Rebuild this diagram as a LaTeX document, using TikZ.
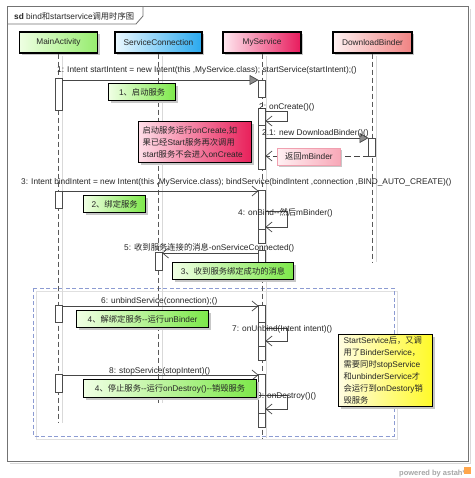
\documentclass[tikz,border=0pt]{standalone}
\usepackage{fontspec}
\setmainfont{Liberation Sans}
\newfontfamily\cjk{Noto Sans CJK SC}
\usetikzlibrary{arrows.meta,shadows}
\newcommand\zh[1]{{\cjk #1}}
\newcommand\fs{\fontsize{8.3}{10}\selectfont}
\newcommand\nfs{\fontsize{8.3}{12}\selectfont}
\definecolor{lineclr}{RGB}{70,70,70}
\definecolor{fragclr}{RGB}{140,155,210}
\tikzset{
  lifeline/.style={draw=black!65, line width=1pt, dash pattern=on 5pt off 3pt},
  lifeshadow/.style={draw=black!15, line width=0.6pt},
  actbar/.style={draw=black!70, fill=white, line width=0.6pt},
  divider/.style={draw=black!70, line width=0.6pt},
  msg/.style={draw=lineclr, line width=0.7pt, -{Straight Barb[length=6pt,width=10pt,line width=0.7pt]}},
  syncmsg/.style={draw=lineclr, line width=0.7pt, -{Triangle[length=9pt,width=10pt,fill=black!45,line width=0.7pt]}},
  retmsg/.style={msg, dash pattern=on 6pt off 3pt},
  headbox/.style={draw=black, line width=1.3pt, minimum height=21pt, inner sep=0, font=\fs, text=black!85,
    drop shadow={shadow xshift=2pt, shadow yshift=-2pt, fill=black!22, opacity=1}},
  notebox/.style={draw=black, line width=1.2pt, inner sep=0, font=\fs, text=black!85, anchor=north west,
    drop shadow={shadow xshift=2pt, shadow yshift=-2pt, fill=black!22, opacity=1}},
  greennote/.style={notebox, left color={rgb,255:red,240;green,255;blue,228}, right color={rgb,255:red,125;green,232;blue,74}},
  lbl/.style={font=\fs, text=black!85, inner sep=0, anchor=base west},
}
\begin{document}
\begin{tikzpicture}[x=1pt,y=-1pt]
\useasboundingbox (0,0) rectangle (474,478);
\fill[white] (0,0) rectangle (474,478);
% frame
\draw[black!15, line width=1pt] (9.5,463.5) -- (470.5,463.5) -- (470.5,9.5);
\draw[black!55, line width=1pt] (7,7) rectangle (468,461);
\draw[black!55, line width=0.8pt] (7,24) -- (136,24) -- (143,16) -- (143,7);
\node[lbl] (title) at (14,19.5) {\textbf{sd} bind\zh{和}startservice\zh{调用时序图}};
% fragment
\draw[black!12, line width=0.8pt] (36,291) rectangle (397,439);
\draw[draw=fragclr, line width=0.9pt, dash pattern=on 4pt off 2.5pt] (33,288) rectangle (394,436);
% heads
\node[headbox, minimum width=78pt, left color={rgb,255:red,238;green,255;blue,226}, right color={rgb,255:red,150;green,236;blue,110}] (ma) at (58.5,42.5) {MainActivity};
\node[headbox, minimum width=87pt, left color={rgb,255:red,236;green,249;blue,255}, right color={rgb,255:red,40;green,168;blue,238}] (sc) at (158.5,42.5) {ServiceConnection};
\node[headbox, minimum width=78pt, left color={rgb,255:red,255;green,232;blue,240}, right color={rgb,255:red,232;green,26;blue,92}] (ms) at (262,42.5) {MyService};
\node[headbox, minimum width=79pt, left color={rgb,255:red,255;green,242;blue,242}, right color={rgb,255:red,240;green,130;blue,130}] (db) at (372.5,42.5) {DownloadBinder};
% lifelines
\coordinate (maEnd) at (58.5,423);
\coordinate (scEnd) at (158.5,403);
\coordinate (msEnd) at (262,438);
\coordinate (dbEnd) at (372.5,262);
\draw[lifeshadow] (62.5,56) -- (62.5,423);
\draw[lifeshadow] (162.5,56) -- (162.5,403);
\draw[lifeshadow] (266,56) -- (266,438);
\draw[lifeshadow] (376.5,56) -- (376.5,262);
\draw[lifeline] (ma) -- (maEnd);
\draw[lifeline] (sc) -- (scEnd);
\draw[lifeline] (ms) -- (msEnd);
\draw[lifeline] (db) -- (dbEnd);
% activation bars MainActivity
\draw[actbar] (55,78) rectangle (62,110);
\draw[actbar] (55,191) rectangle (62,208);
\draw[actbar] (55,305) rectangle (62,322);
\draw[actbar] (55,374) rectangle (62,392);
% ServiceConnection
\draw[actbar] (155,252) rectangle (162,270);
% MyService
\draw[actbar] (258.5,80) rectangle (265.5,97);
\draw[actbar] (258.5,108) rectangle (265.5,169);
\draw[divider] (258.5,125) -- (265.5,125);
\draw[actbar] (258.5,190) rectangle (265.5,243);
\draw[divider] (258.5,229) -- (265.5,229);
\draw[actbar] (258.5,250) rectangle (265.5,272);
\draw[actbar] (258.5,305) rectangle (265.5,360);
\draw[divider] (258.5,322) -- (265.5,322);
\draw[divider] (258.5,346) -- (265.5,346);
\draw[actbar] (258.5,374) rectangle (265.5,427);
\draw[divider] (258.5,395) -- (265.5,395);
\draw[divider] (258.5,413) -- (265.5,413);
% DownloadBinder
\draw[actbar] (368.5,138) rectangle (375.5,156);
% messages
\coordinate (m1a) at (62,80); \coordinate (m1b) at (258.5,80);
\draw[syncmsg] (m1a) -- (m1b);
\coordinate (s2a) at (265.5,111); \coordinate (s2b) at (265.5,121);
\draw[msg] (s2a) -- ++(21.5,0) |- (s2b);
\coordinate (m21a) at (265.5,138); \coordinate (m21b) at (368.5,138);
\draw[syncmsg] (m21a) -- (m21b);
\coordinate (r21a) at (368.5,156); \coordinate (r21b) at (265.5,156);
\draw[retmsg] (r21a) -- (r21b);
\coordinate (m3a) at (62,191); \coordinate (m3b) at (258.5,191);
\draw[msg] (m3a) -- (m3b);
\coordinate (s4a) at (265.5,211); \coordinate (s4b) at (265.5,227);
\draw[msg] (s4a) -- ++(21.5,0) |- (s4b);
\coordinate (m5a) at (258.5,253); \coordinate (m5b) at (162,253);
\draw[msg] (m5a) -- (m5b);
\coordinate (m6a) at (62,306); \coordinate (m6b) at (258.5,306);
\draw[msg] (m6a) -- (m6b);
\coordinate (s7a) at (265.5,328); \coordinate (s7b) at (265.5,341);
\draw[msg] (s7a) -- ++(21.5,0) |- (s7b);
\coordinate (m8a) at (62,375); \coordinate (m8b) at (258.5,375);
\draw[msg] (m8a) -- (m8b);
\coordinate (s9a) at (265.5,395); \coordinate (s9b) at (265.5,409);
\draw[msg] (s9a) -- ++(21.5,0) |- (s9b);
% message labels
\node[lbl] (l1) at (57,73) {1: Intent startIntent = new Intent(this ,MyService.class); startService(startIntent);()};
\node[lbl] (l2) at (259,110) {2: onCreate()()};
\node[lbl] (l21) at (262,136) {2.1: new DownloadBinder()()};
\node[lbl] (l3) at (21,185) {3: Intent bindIntent = new Intent(this ,MyService.class); bindService(bindIntent ,connection ,BIND\_AUTO\_CREATE)()};
\node[lbl] (l4) at (238,215) {4: onBind-{}-\zh{然后}mBinder()};
\node[lbl] (l5) at (124,250) {5: \zh{收到服务连接的消息}-onServiceConnected()};
\node[lbl] (l6) at (101,303) {6: unbindService(connection);()};
\node[lbl] (l7) at (232,331) {7: onUnbind(Intent intent)()};
\node[lbl] (l8) at (109,373) {8: stopService(stopIntent)()};
\node[lbl] (l9) at (257,398) {9: onDestroy()()};
% notes
\node[greennote, minimum width=67pt, minimum height=17pt] (n1) at (108,83) {1\zh{、启动服务}};
\node[notebox, minimum width=113pt, minimum height=41pt, text width=105pt, inner xsep=4pt, align=left, font=\nfs,
  left color={rgb,255:red,255;green,222;blue,232}, right color={rgb,255:red,232;green,32;blue,90}] (pn) at (138,121)
  {\zh{启动服务运行}onCreate,\zh{如}\\\zh{果已经}Start\zh{服务再次调用}\\start\zh{服务不会进入}onCreate};
\node[notebox, draw={rgb,255:red,240;green,160;blue,176}, line width=0.8pt, minimum width=63pt, minimum height=17pt,
  left color={rgb,255:red,255;green,240;blue,242}, right color={rgb,255:red,248;green,168;blue,184}] (rn) at (277,148) {\zh{返回}mBinder};
\node[greennote, minimum width=62pt, minimum height=17pt] (n2) at (83,195) {2\zh{、绑定服务}};
\node[greennote, minimum width=121pt, minimum height=17pt] (n3) at (172,262) {3\zh{、收到服务绑定成功的消息}};
\node[greennote, minimum width=132pt, minimum height=17pt] (n4) at (76,310) {4\zh{、解绑定服务}-{}-\zh{运行}unBinder};
\node[greennote, minimum width=173pt, minimum height=18pt] (n5) at (83,379) {4\zh{、停止服务}-{}-\zh{运行}onDestroy()-{}-\zh{销毁服务}};
\node[notebox, minimum width=94pt, minimum height=72pt, text width=84pt, inner xsep=5pt, align=left, font=\nfs,
  left color={rgb,255:red,255;green,252;blue,226}, right color={rgb,255:red,255;green,250;blue,40}] (yn) at (338,334)
  {StartService\zh{后，又调}\\\zh{用了}BinderService\zh{，}\\\zh{需要同时}stopService\\\zh{和}unbinderService\zh{才}\\\zh{会运行到}onDestory\zh{销}\\\zh{毁服务}};
% watermark
\node[lbl, font=\bfseries\fontsize{7.5}{9}\selectfont, text=black!35] (pw) at (399,475) {powered by astah*};
\fill[orange!70] (464,467) rectangle (471,474);
\end{tikzpicture}
\end{document}
